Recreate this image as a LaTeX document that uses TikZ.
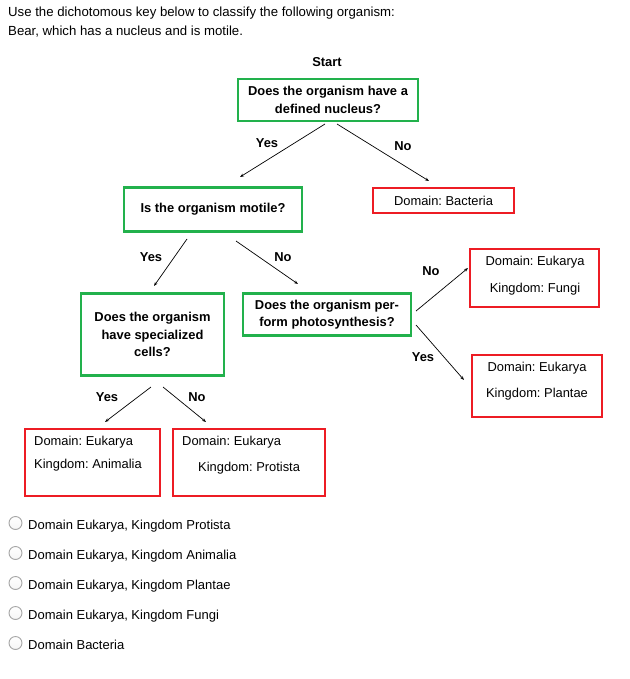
\documentclass[tikz,border=0pt]{standalone}
\usepackage{fontspec}
\setmainfont{Liberation Sans}
\usetikzlibrary{arrows.meta}
\definecolor{kgreen}{RGB}{34,177,76}
\definecolor{kred}{RGB}{237,28,36}
\definecolor{kgray}{RGB}{165,165,165}
\frenchspacing
\begin{document}
\frenchspacing
\begin{tikzpicture}[x=1pt,y=-1pt,
  gbox/.style={draw=kgreen,line width=2.2pt,inner sep=0pt,align=center,
    font=\fontsize{12.9}{17.5}\selectfont\bfseries},
  rbox/.style={draw=kred,line width=2.2pt,inner sep=0pt,align=center,
    font=\fontsize{12.9}{17}\selectfont},
  lbl/.style={inner sep=0pt,font=\fontsize{12.9}{14}\selectfont\bfseries},
  txt/.style={inner sep=0pt,anchor=mid west,font=\fontsize{13.2}{15}\selectfont},
  otxt/.style={inner sep=0pt,anchor=mid west,font=\fontsize{13}{15}\selectfont},
  btxt/.style={inner sep=0pt,font=\fontsize{12.9}{14}\selectfont},
  arr/.style={-{Stealth[length=4pt,width=3pt]},line width=0.7pt},
  radio/.style={draw=kgray,line width=0.9pt,circle,minimum size=13pt,inner sep=0pt,
    top color=white,bottom color=gray!8}]
\useasboundingbox (0,0) rectangle (629,679);
\fill[white] (0,0) rectangle (629,679);
% header
\node[txt] (h1) at (8,13.5) {Use the dichotomous key below to classify the following organism:};
\node[txt] (h2) at (8,33) {Bear, which has a nucleus and is motile.};
\node[lbl] (start) at (327,62) {Start};
% boxes
\node[gbox,minimum width=180pt,minimum height=42pt] (q1) at (328,100) {Does the organism have a\\defined nucleus?};
\node[gbox,minimum width=178pt,minimum height=44pt] (q2) at (213,209.5) {Is the organism motile?};
\node[rbox,minimum width=141pt,minimum height=25pt] (bact) at (443.5,200.5) {Domain: Bacteria};
\node[gbox,minimum width=168pt,minimum height=42pt] (photo) at (327,314.5) {Does the organism per-\\form photosynthesis?};
\node[gbox,minimum width=143pt,minimum height=82pt] (cells) at (152.5,334.5) {Does the organism\\have specialized\\cells?};
\node[rbox,minimum width=129pt,minimum height=58pt] (fungi) at (534.5,278) {};
\node[rbox,minimum width=130pt,minimum height=62pt] (plant) at (537,386) {};
\node[rbox,minimum width=135pt,minimum height=67pt] (anim) at (92.5,462.5) {};
\node[rbox,minimum width=152pt,minimum height=67pt] (prot) at (249,462.5) {};
% texts of result boxes
\node[btxt] (fungi1) at (535,262) {Domain: Eukarya};
\node[btxt] (fungi2) at (535,289) {Kingdom: Fungi};
\node[btxt] (plant1) at (537,368) {Domain: Eukarya};
\node[btxt] (plant2) at (537,394) {Kingdom: Plantae};
\node[btxt,anchor=mid west] (anim1) at (34,443) {Domain: Eukarya};
\node[btxt,anchor=mid west] (anim2) at (34,466) {Kingdom: Animalia};
\node[btxt,anchor=mid west] (prot1) at (182,443) {Domain: Eukarya};
\node[btxt,anchor=mid west] (prot2) at (198,469) {Kingdom: Protista};
% connector end points
\coordinate (a1s) at (325,124); \coordinate (a1e) at (240,177);
\coordinate (a2s) at (337,124); \coordinate (a2e) at (429,181);
\coordinate (a3s) at (187,239); \coordinate (a3e) at (154,286);
\coordinate (a4s) at (236,241); \coordinate (a4e) at (298,284);
\coordinate (a5s) at (416,311); \coordinate (a5e) at (468,268);
\coordinate (a6s) at (416,325); \coordinate (a6e) at (464,380);
\coordinate (a7s) at (151,387); \coordinate (a7e) at (105,422);
\coordinate (a8s) at (163,387); \coordinate (a8e) at (206,422);
\draw[arr] (a1s) -- (a1e);
\draw[arr] (a2s) -- (a2e);
\draw[arr] (a3s) -- (a3e);
\draw[arr] (a4s) -- (a4e);
\draw[arr] (a5s) -- (a5e);
\draw[arr] (a6s) -- (a6e);
\draw[arr] (a7s) -- (a7e);
\draw[arr] (a8s) -- (a8e);
% connector labels
\node[lbl] (l1) at (267,143) {Yes};
\node[lbl] (l2) at (403,146) {No};
\node[lbl] (l3) at (151,257) {Yes};
\node[lbl] (l4) at (283,257) {No};
\node[lbl] (l5) at (431,271) {No};
\node[lbl] (l6) at (423,357) {Yes};
\node[lbl] (l7) at (107,397) {Yes};
\node[lbl] (l8) at (197,397) {No};
% options
\node[radio] (r1) at (15.5,523) {};
\node[radio] (r2) at (15.5,553) {};
\node[radio] (r3) at (15.5,583) {};
\node[radio] (r4) at (15.5,613) {};
\node[radio] (r5) at (15.5,643) {};
\node[otxt] (o1) at (28,527) {Domain Eukarya, Kingdom Protista};
\node[otxt] (o2) at (28,557) {Domain Eukarya, Kingdom Animalia};
\node[otxt] (o3) at (28,587) {Domain Eukarya, Kingdom Plantae};
\node[otxt] (o4) at (28,617) {Domain Eukarya, Kingdom Fungi};
\node[otxt] (o5) at (28,647) {Domain Bacteria};
\end{tikzpicture}
\end{document}
